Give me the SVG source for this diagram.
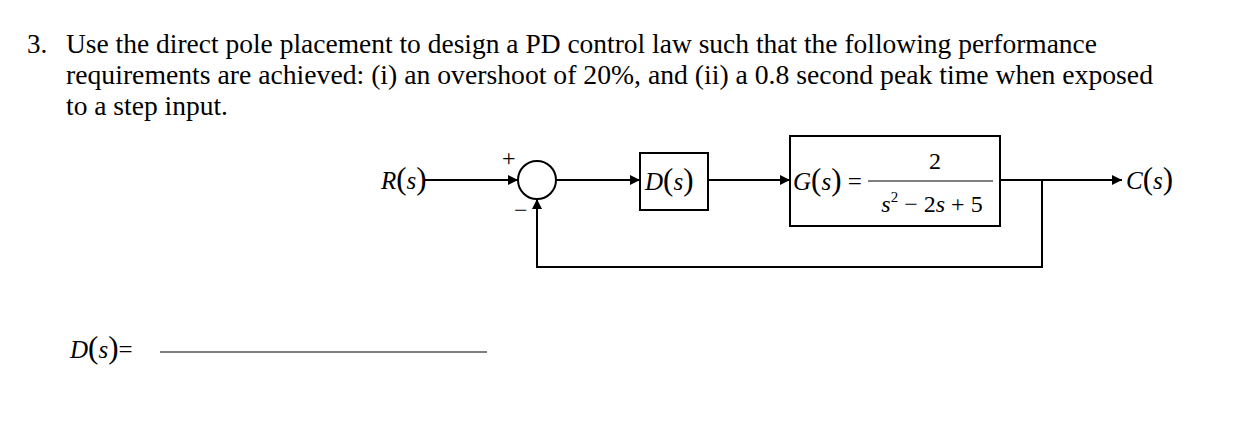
<svg xmlns="http://www.w3.org/2000/svg" width="1238" height="432" viewBox="0 0 1238 432">
<style>
.t{font-family:"Liberation Serif",serif;font-size:27px;fill:#000}
.m{font-family:"Liberation Serif",serif;font-size:25px;font-style:italic;fill:#000}
.p{font-style:normal;font-size:31px}
.n{font-family:"Liberation Serif",serif;font-size:24px;fill:#000}
.l{stroke:#000;stroke-width:2;fill:none}
</style>
<defs><marker id="a" markerWidth="10" markerHeight="10" refX="10" refY="5" orient="auto" markerUnits="userSpaceOnUse"><path d="M0,0L10,5L0,10z" fill="#000"/></marker></defs>
<rect width="1238" height="432" fill="#fff"/>
<text class="t" x="27" y="53">3.</text>
<text class="t" x="66" y="53" textLength="1031" lengthAdjust="spacingAndGlyphs">Use the direct pole placement to design a PD control law such that the following performance</text>
<text class="t" x="66" y="84" textLength="1087" lengthAdjust="spacingAndGlyphs">requirements are achieved:  (i) an overshoot of 20%, and (ii) a 0.8 second peak time when exposed</text>
<text class="t" x="66" y="115" textLength="162" lengthAdjust="spacingAndGlyphs">to a step input.</text>
<g id="R"><text class="m" x="381" y="189">R<tspan class="p">(</tspan>s<tspan class="p">)</tspan></text></g>
<g id="sum"><circle class="l" cx="537" cy="180" r="19"/><text class="n" x="502" y="166" font-size="16">+</text><text class="n" x="514" y="218" font-size="16">−</text></g>
<g id="D"><rect class="l" x="640" y="153" width="68" height="57"/><text class="m" x="645" y="190">D<tspan class="p">(</tspan>s<tspan class="p">)</tspan></text></g>
<g id="G"><rect class="l" x="790" y="136" width="210" height="90"/><text class="m" x="793" y="190">G<tspan class="p">(</tspan>s<tspan class="p">)</tspan><tspan font-style="normal"> =</tspan></text>
<text class="n" x="935" y="169" text-anchor="middle">2</text><line x1="868" y1="181" x2="993" y2="181" stroke="#000" stroke-width="1.2"/>
<text class="n" x="932" y="212" text-anchor="middle"><tspan font-style="italic">s</tspan><tspan font-size="15" dy="-10">2</tspan><tspan dy="10"> − 2</tspan><tspan font-style="italic">s</tspan> + 5</text></g>
<g id="C"><text class="m" x="1126" y="189">C<tspan class="p">(</tspan>s<tspan class="p">)</tspan></text></g>
<g id="connectors">
<line class="l" x1="425" y1="180" x2="518" y2="180" marker-end="url(#a)"/>
<line class="l" x1="556" y1="180" x2="640" y2="180" marker-end="url(#a)"/>
<line class="l" x1="708" y1="180" x2="790" y2="180" marker-end="url(#a)"/>
<line class="l" x1="1000" y1="180" x2="1122" y2="180" marker-end="url(#a)"/>
<polyline class="l" points="1042,180 1042,267 537,267 537,199" marker-end="url(#a)"/>
</g>
<g id="answer"><text class="m" x="70" y="358">D<tspan class="p">(</tspan>s<tspan class="p">)</tspan><tspan font-style="normal">=</tspan></text><line x1="160" y1="352" x2="487" y2="352" stroke="#000" stroke-width="1.2"/></g>
</svg>
